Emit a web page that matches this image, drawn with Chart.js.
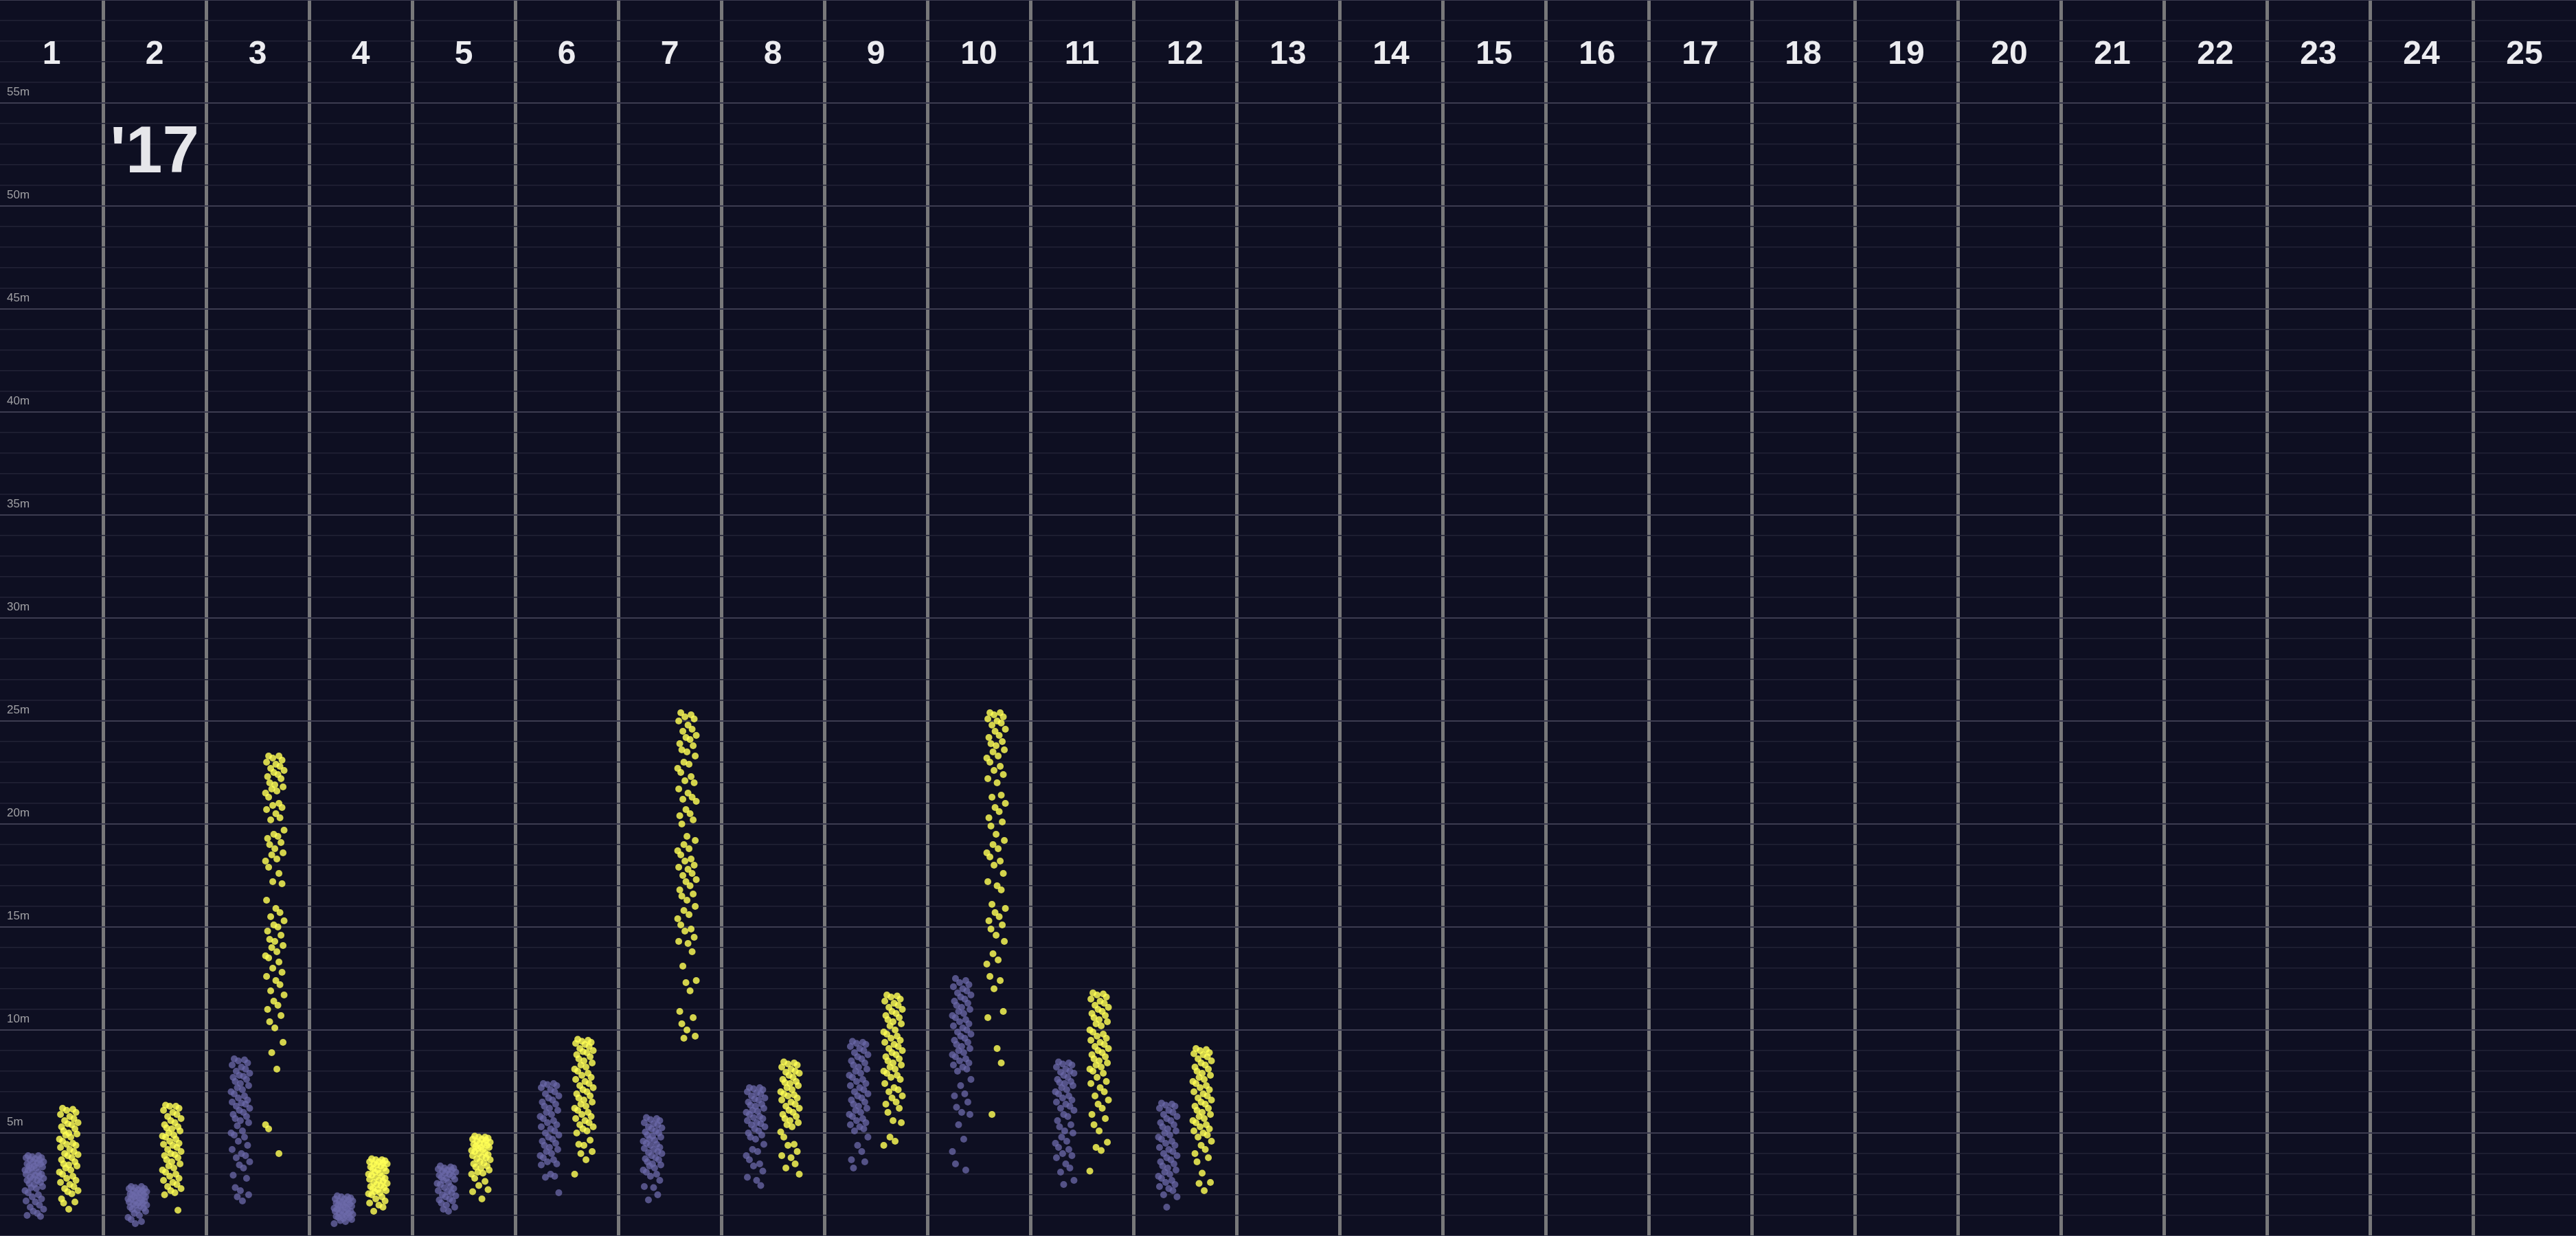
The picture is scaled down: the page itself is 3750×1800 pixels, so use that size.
<!DOCTYPE html>
<html>
<head>
<meta charset="utf-8">
<script src="https://cdn.jsdelivr.net/npm/chart.js@4.4.1/dist/chart.umd.min.js"></script>
<style>
  html, body { margin: 0; padding: 0; background: #0e0f22; }
  #wrap { width: 3750px; height: 1800px; }
</style>
</head>
<body>
<div id="wrap"><canvas id="grafico" width="3750" height="1800"></canvas></div>
<script>
// columnas (meses) y etiqueta del año
const columnas = [1, 2, 3, 4, 5, 6, 7, 8, 9, 10, 11, 12, 13, 14, 15, 16, 17, 18, 19, 20, 21, 22, 23, 24, 25];
const etiquetaAnio = "'17";
const marcasY = [5, 10, 15, 20, 25, 30, 35, 40, 45, 50, 55];

// serie morada, valores en millones por columna
const morado1 = [3.9,3.9,3.85,3.8,3.8,3.75,3.7,3.7,3.6,3.6,3.55,3.5,3.5,3.4,3.4,3.35,3.3,3.3,3.2,3.2,3.1,3.1,3.0,3.0,2.95,2.9,2.85,2.8,2.8,2.7,2.7,2.6,2.55,2.5,2.4,2.35,2.3,2.2,2.1,2.0,1.9,1.8,1.7,1.65,1.5,1.4,1.3,1.2,1.1,1.0,0.95];
const morado2 = [2.4,2.4,2.35,2.3,2.3,2.25,2.2,2.2,2.15,2.1,2.1,2.05,2.0,2.0,1.95,1.9,1.9,1.85,1.8,1.8,1.75,1.7,1.7,1.65,1.6,1.6,1.55,1.5,1.5,1.45,1.4,1.35,1.3,1.25,1.2,1.1,1.0,0.9,0.8,0.7,0.6];
const morado3 = [8.6,8.55,8.5,8.4,8.3,8.2,8.1,8.0,7.9,7.8,7.75,7.7,7.6,7.5,7.4,7.3,7.2,7.1,7.0,6.9,6.8,6.7,6.6,6.5,6.45,6.4,6.3,6.2,6.1,6.0,5.9,5.8,5.7,5.6,5.5,5.35,5.1,5.0,4.9,4.8,4.6,4.4,4.2,4.0,3.9,3.8,3.6,3.45,3.3,2.95,2.8,2.35,2.2,2.0,1.9,1.7];
const morado4 = [1.95,1.9,1.9,1.85,1.8,1.8,1.75,1.7,1.7,1.65,1.6,1.6,1.55,1.5,1.5,1.45,1.4,1.4,1.35,1.3,1.3,1.25,1.2,1.2,1.15,1.1,1.1,1.05,1.0,1.0,0.95,0.9,0.9,0.85,0.8,0.75,0.7,0.6];
const morado5 = [3.4,3.35,3.3,3.3,3.25,3.2,3.2,3.15,3.1,3.05,3.0,2.95,2.9,2.85,2.8,2.75,2.7,2.6,2.55,2.5,2.4,2.35,2.3,2.2,2.15,2.1,2.0,1.95,1.9,1.8,1.75,1.7,1.6,1.5,1.4,1.3,1.2];
const morado6 = [7.4,7.4,7.35,7.3,7.2,7.1,7.0,6.9,6.8,6.7,6.6,6.5,6.4,6.3,6.2,6.1,6.0,5.9,5.8,5.7,5.6,5.5,5.4,5.3,5.2,5.1,5.0,4.9,4.8,4.7,4.6,4.5,4.4,4.3,4.2,4.1,4.0,3.9,3.8,3.7,3.6,3.5,3.45,3.0,2.9,2.85,2.1];
const morado7 = [5.75,5.7,5.65,5.6,5.5,5.45,5.4,5.3,5.25,5.2,5.1,5.05,5.0,4.9,4.85,4.8,4.7,4.65,4.6,4.5,4.45,4.4,4.3,4.25,4.2,4.1,4.05,4.0,3.9,3.8,3.75,3.7,3.6,3.5,3.45,3.4,3.3,3.2,3.1,3.0,2.9,2.7,2.4,2.35,2.0,1.75];
const morado8 = [7.2,7.2,7.15,7.1,7.0,6.95,6.9,6.8,6.7,6.65,6.6,6.5,6.4,6.35,6.3,6.2,6.1,6.05,6.0,5.9,5.8,5.75,5.7,5.6,5.5,5.45,5.4,5.3,5.2,5.1,5.0,4.9,4.8,4.7,4.45,4.2,4.1,3.9,3.7,3.5,3.4,3.15,2.85,2.7,2.45];
const morado9 = [9.45,9.4,9.35,9.3,9.2,9.1,9.0,8.9,8.8,8.7,8.6,8.5,8.4,8.3,8.2,8.1,8.0,7.9,7.8,7.7,7.6,7.5,7.4,7.3,7.2,7.1,7.0,6.9,6.8,6.7,6.6,6.5,6.4,6.3,6.2,6.1,6.0,5.9,5.8,5.7,5.6,5.5,5.4,5.3,5.2,5.1,4.8,4.4,4.1,3.7,3.6,3.3];
const morado10 = [12.5,12.4,12.3,12.2,12.1,12.0,11.9,11.8,11.7,11.6,11.5,11.4,11.3,11.2,11.1,11.0,10.9,10.8,10.7,10.6,10.5,10.4,10.3,10.2,10.1,10.0,9.9,9.8,9.7,9.6,9.5,9.4,9.3,9.2,9.1,9.0,8.9,8.8,8.7,8.6,8.5,8.4,8.3,8.2,8.1,8.0,7.6,7.3,6.9,6.8,6.5,6.25,6.0,5.9,5.4,4.7,4.1,3.5,3.2];
const morado11 = [8.45,8.4,8.35,8.3,8.2,8.1,8.0,7.95,7.9,7.8,7.7,7.6,7.5,7.45,7.4,7.3,7.2,7.1,7.0,6.9,6.8,6.7,6.6,6.5,6.4,6.3,6.2,6.1,5.9,5.8,5.6,5.4,5.3,5.1,5.0,4.8,4.6,4.5,4.3,4.2,4.0,3.9,3.8,3.5,3.3,3.1,2.7,2.5];
const morado12 = [6.45,6.4,6.35,6.3,6.2,6.1,6.0,5.9,5.8,5.7,5.6,5.5,5.4,5.3,5.2,5.1,5.0,4.9,4.8,4.7,4.6,4.5,4.4,4.3,4.2,4.1,4.0,3.9,3.8,3.7,3.6,3.5,3.4,3.3,3.2,3.1,3.0,2.9,2.8,2.7,2.6,2.5,2.4,2.3,2.2,2.0,1.9,1.4];

// serie amarilla
const amarillo1 = [6.2,6.15,6.1,6.0,5.9,5.8,5.7,5.6,5.5,5.45,5.4,5.3,5.2,5.1,5.0,4.95,4.9,4.8,4.7,4.6,4.5,4.45,4.4,4.3,4.2,4.1,4.0,3.95,3.9,3.8,3.7,3.6,3.5,3.45,3.4,3.3,3.2,3.1,3.0,2.9,2.8,2.7,2.6,2.5,2.4,2.3,2.2,2.15,2.05,1.8,1.65,1.6,1.3];
const amarillo2 = [6.35,6.3,6.3,6.2,6.1,6.0,5.9,5.8,5.7,5.6,5.5,5.4,5.3,5.25,5.2,5.1,5.0,4.9,4.85,4.8,4.7,4.6,4.5,4.45,4.4,4.3,4.2,4.1,4.0,3.95,3.9,3.8,3.7,3.6,3.5,3.4,3.3,3.2,3.1,3.0,2.9,2.8,2.7,2.6,2.5,2.4,2.3,2.2,2.1,2.0,1.25];
const amarillo3 = [23.3,23.3,23.2,23.1,23.0,22.9,22.8,22.7,22.6,22.5,22.4,22.3,22.2,22.0,21.9,21.8,21.7,21.6,21.5,21.3,21.0,20.9,20.8,20.7,20.5,20.3,20.2,19.7,19.5,19.4,19.3,19.1,19.0,18.8,18.6,18.5,18.3,18.2,17.9,17.6,17.2,17.1,16.3,15.9,15.7,15.5,15.3,15.1,15.0,14.8,14.6,14.4,14.3,14.1,14.0,13.8,13.6,13.5,13.3,13.0,12.8,12.6,12.4,12.2,11.9,11.7,11.4,11.2,11.0,10.7,10.4,10.1,9.4,8.9,8.1,5.4,5.2,4.0];
const amarillo4 = [3.75,3.7,3.7,3.65,3.6,3.6,3.55,3.5,3.5,3.45,3.4,3.35,3.3,3.25,3.2,3.15,3.1,3.05,3.0,2.95,2.9,2.85,2.8,2.75,2.7,2.65,2.6,2.55,2.5,2.45,2.4,2.35,2.3,2.25,2.2,2.15,2.1,2.05,2.0,1.9,1.8,1.7,1.6,1.5,1.4,1.2];
const amarillo5 = [4.85,4.8,4.8,4.75,4.7,4.7,4.65,4.6,4.55,4.5,4.5,4.45,4.4,4.35,4.3,4.3,4.25,4.2,4.15,4.1,4.05,4.0,3.95,3.9,3.85,3.8,3.75,3.7,3.6,3.55,3.5,3.4,3.35,3.3,3.2,3.1,3.05,3.0,2.8,2.65,2.45,2.25,2.15,1.8];
const amarillo6 = [9.55,9.5,9.45,9.4,9.35,9.3,9.2,9.1,9.0,8.95,8.9,8.8,8.7,8.6,8.5,8.4,8.3,8.2,8.1,8.0,7.9,7.8,7.7,7.6,7.5,7.4,7.3,7.2,7.1,7.0,6.9,6.8,6.7,6.6,6.5,6.4,6.3,6.2,6.1,6.0,5.9,5.8,5.7,5.6,5.5,5.4,5.3,5.2,5.1,5.0,4.65,4.45,4.4,4.1,4.0,3.7,3.0];
const amarillo7 = [25.4,25.3,25.2,25.1,25.0,24.8,24.6,24.5,24.3,24.2,24.1,23.9,23.8,23.6,23.5,23.3,23.0,22.9,22.7,22.5,22.3,22.1,22.0,21.7,21.5,21.3,21.2,21.1,20.7,20.5,20.4,20.2,20.0,19.4,19.2,19.0,18.8,18.7,18.5,18.3,18.2,18.0,17.9,17.8,17.6,17.5,17.3,17.2,17.0,16.8,16.6,16.5,16.3,16.0,15.8,15.6,15.4,15.1,14.9,14.8,14.5,14.3,14.2,13.8,13.1,12.4,12.3,11.9,10.9,10.6,10.3,10.0,9.7,9.6];
const amarillo8 = [8.45,8.4,8.35,8.3,8.2,8.1,8.0,7.95,7.9,7.8,7.7,7.6,7.5,7.45,7.4,7.3,7.2,7.1,7.0,6.9,6.85,6.8,6.7,6.6,6.5,6.4,6.3,6.2,6.1,6.0,5.9,5.8,5.7,5.6,5.5,5.4,5.3,5.05,4.8,4.45,4.4,4.1,3.9,3.8,3.5,3.3,3.0];
const amarillo9 = [11.7,11.65,11.6,11.5,11.4,11.3,11.2,11.1,11.0,10.9,10.8,10.7,10.6,10.5,10.4,10.3,10.2,10.0,9.9,9.8,9.7,9.6,9.5,9.4,9.3,9.2,9.1,9.0,8.9,8.8,8.7,8.6,8.5,8.4,8.3,8.2,8.1,8.0,7.9,7.8,7.7,7.6,7.4,7.2,7.1,7.0,6.8,6.7,6.5,6.4,6.2,6.0,5.6,5.5,4.8,4.6,4.4];
const amarillo10 = [25.4,25.4,25.3,25.2,25.1,25.0,24.9,24.8,24.6,24.5,24.3,24.2,24.0,23.9,23.8,23.6,23.5,23.3,23.2,23.0,22.8,22.6,22.4,22.2,22.0,21.4,21.3,21.0,20.8,20.6,20.3,20.1,19.9,19.5,19.2,19.0,18.8,18.6,18.4,18.2,18.0,17.6,17.2,17.0,16.8,16.1,15.9,15.7,15.5,15.3,15.1,14.9,14.6,14.3,13.7,13.4,13.2,12.6,12.4,12.0,10.9,10.6,9.1,8.4,5.9];
const amarillo11 = [11.8,11.75,11.7,11.6,11.5,11.4,11.3,11.2,11.1,11.0,10.9,10.8,10.7,10.6,10.5,10.4,10.3,10.2,10.0,9.9,9.8,9.7,9.6,9.5,9.4,9.3,9.2,9.1,9.0,8.9,8.8,8.7,8.6,8.5,8.4,8.3,8.2,8.1,8.0,7.9,7.7,7.5,7.4,7.2,7.0,6.8,6.6,6.4,6.2,5.9,5.7,5.4,5.1,4.55,4.3,4.15,3.15];
const amarillo12 = [9.1,9.05,9.0,8.9,8.85,8.8,8.7,8.6,8.5,8.4,8.3,8.2,8.1,8.0,7.9,7.8,7.7,7.6,7.5,7.4,7.3,7.2,7.1,7.0,6.9,6.8,6.7,6.6,6.5,6.4,6.3,6.2,6.1,6.0,5.9,5.8,5.7,5.6,5.5,5.4,5.3,5.2,5.1,5.0,4.9,4.8,4.6,4.4,4.2,4.0,3.8,3.6,3.05,2.6,2.55,2.2];

const serieMorada = [morado1, morado2, morado3, morado4, morado5, morado6, morado7, morado8, morado9, morado10, morado11, morado12];
const serieAmarilla = [amarillo1, amarillo2, amarillo3, amarillo4, amarillo5, amarillo6, amarillo7, amarillo8, amarillo9, amarillo10, amarillo11, amarillo12];

// dispersión horizontal de los puntos dentro de su franja (en unidades de columna)
const dispersion = [-0.06, 0.04, -0.02, 0.07, -0.08, 0.01, 0.05, -0.04, 0.09, -0.01, 0.03, -0.07, 0.06, -0.05, 0.0, 0.08, -0.03, 0.02, -0.09];
const desplazamientoMorado = -0.167;
const desplazamientoAmarillo = 0.167;

function construirPuntos(serie, desplazamiento) {
  const puntos = [];
  serie.forEach((valores, i) => {
    valores.forEach((v, j) => {
      puntos.push({ x: columnas[i] + desplazamiento + dispersion[j % dispersion.length], y: v });
    });
  });
  return puntos;
}

// quitar el hueco que Chart.js deja alrededor de los ejes
function sinHueco(escala) {
  if (escala.isHorizontal()) escala.height = 0; else escala.width = 0;
  escala.paddingTop = 0;
  escala.paddingBottom = 0;
  escala.paddingLeft = 0;
  escala.paddingRight = 0;
}

// etiquetas de columna y del año dibujadas con las escalas del gráfico
const etiquetas = {
  id: 'etiquetas',
  afterDraw(chart) {
    const { ctx, scales } = chart;
    ctx.save();
    ctx.fillStyle = '#ececf0';
    ctx.textAlign = 'center';
    ctx.textBaseline = 'middle';
    ctx.font = 'bold 48px "Liberation Sans", Arial, sans-serif';
    const yCol = scales.y.getPixelForValue(57.35);
    columnas.forEach(c => {
      ctx.fillText(String(c), scales.x.getPixelForValue(c), yCol);
    });
    ctx.font = 'bold 96px "Liberation Sans", Arial, sans-serif';
    ctx.fillStyle = '#e6e6ea';
    ctx.fillText(etiquetaAnio, scales.x.getPixelForValue(2), scales.y.getPixelForValue(52.5));
    ctx.restore();
  }
};

const ctx = document.getElementById('grafico').getContext('2d');
new Chart(ctx, {
  type: 'scatter',
  data: {
    datasets: [
      {
        label: 'morado',
        data: construirPuntos(serieMorada, desplazamientoMorado),
        backgroundColor: 'rgba(108, 106, 170, 0.75)',
        borderWidth: 0,
        pointRadius: 5
      },
      {
        label: 'amarillo',
        data: construirPuntos(serieAmarilla, desplazamientoAmarillo),
        backgroundColor: 'rgba(255, 255, 85, 0.82)',
        borderWidth: 0,
        pointRadius: 5
      }
    ]
  },
  options: {
    responsive: false,
    animation: false,
    layout: { padding: 0, autoPadding: false },
    plugins: {
      legend: { display: false },
      tooltip: { enabled: false }
    },
    scales: {
      x: {
        type: 'linear',
        position: 'top',
        min: 0.5,
        max: 25.5,
        afterBuildTicks: (escala) => {
          escala.ticks = columnas.map(c => ({ value: c - 0.5 })).concat([{ value: 25.5 }]);
        },
        afterFit: sinHueco,
        ticks: { display: false },
        border: { display: false },
        grid: {
          drawTicks: false,
          lineWidth: 5,
          color: (c) => (c.tick && (c.tick.value === 0.5 || c.tick.value === 25.5)) ? 'rgba(0,0,0,0)' : '#78787a'
        }
      },
      y: {
        min: 0,
        max: 60,
        afterBuildTicks: (escala) => {
          const t = [];
          for (let v = 0; v <= 60; v++) t.push({ value: v });
          escala.ticks = t;
        },
        afterFit: sinHueco,
        border: { display: false },
        grid: {
          z: -1,
          drawTicks: false,
          lineWidth: (c) => (c.tick && c.tick.value % 5 === 0) ? 2 : 1.5,
          color: (c) => (c.tick && c.tick.value % 5 === 0) ? '#3c3c50' : '#222336'
        },
        ticks: {
          mirror: true,
          padding: 10,
          labelOffset: -16,
          color: '#a0a0a4',
          font: { family: '"Liberation Sans", Arial, sans-serif', size: 17 },
          callback: (v) => marcasY.includes(v) ? v + 'm' : ''
        }
      }
    }
  },
  plugins: [etiquetas]
});
</script>
</body>
</html>
